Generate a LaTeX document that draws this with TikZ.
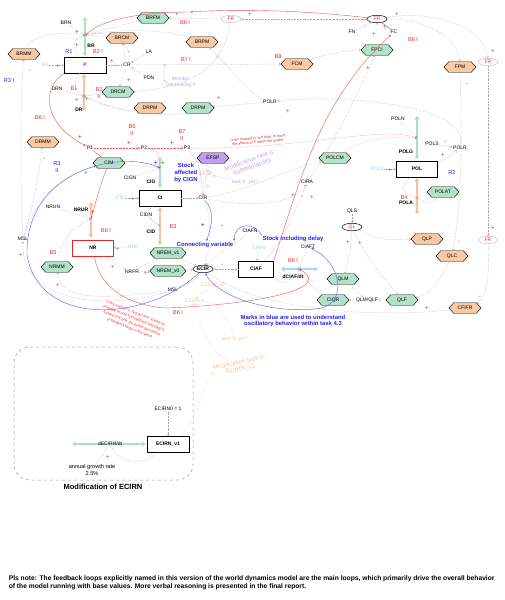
\documentclass[tikz,border=0pt]{standalone}
\usepackage{fontspec}
\setmainfont{Liberation Sans}
\usetikzlibrary{arrows.meta,shapes.symbols,shapes.geometric,positioning}

\definecolor{hexorange}{HTML}{F9C9A3}
\definecolor{hexgreen}{HTML}{B3E2CB}
\definecolor{hexpurple}{HTML}{C49CF2}
\definecolor{loopred}{HTML}{E8262B}
\definecolor{loopblue}{HTML}{2323E6}
\definecolor{initblue}{HTML}{9CCBEF}
\definecolor{flowgreen}{HTML}{A6E3C6}
\definecolor{floworange}{HTML}{F8C39C}
\definecolor{flowblue}{HTML}{A8D5F5}
\definecolor{paleorange}{HTML}{F5C3A2}
\definecolor{palepurple}{HTML}{C2A2F2}
\definecolor{linkgray}{HTML}{A9A9A9}

\begin{document}
\begin{tikzpicture}[
    x=1pt, y=-1pt,
    font=\fontsize{5}{5.6}\selectfont,
    every node/.style={inner sep=0.6pt},
    hexo/.style={signal, signal to=west and east, signal pointer angle=96,
        draw=black, line width=0.45pt, fill=hexorange, minimum height=10.5pt, minimum width=32pt, inner xsep=2pt},
    hexg/.style={hexo, fill=hexgreen},
    hexp/.style={hexo, fill=hexpurple},
    stockbox/.style={draw=black, line width=0.6pt, fill=white, minimum width=42pt,
        minimum height=16pt, font=\fontsize{5}{5.6}\selectfont\bfseries},
    shadowvar/.style={ellipse, draw=gray!55, line width=0.4pt, text=loopred,
        minimum width=20pt, minimum height=7.5pt, inner sep=0.3pt},
    boldlabel/.style={font=\fontsize{5}{5.6}\selectfont\bfseries},
    loopname/.style={text=loopred, font=\fontsize{5.6}{6.2}\selectfont},
    bluename/.style={text=loopblue, font=\fontsize{5.6}{6.2}\selectfont},
    bluebold/.style={text=loopblue, font=\fontsize{5.9}{6.6}\selectfont\bfseries},
    flowarrow/.style={line width=1.6pt, {Triangle[length=3.5pt,width=5pt]}-{Triangle[length=3.5pt,width=5pt]}},
    linkdot/.style={draw=linkgray, densely dotted, line width=0.45pt, -{Straight Barb[length=1.4pt,width=2.6pt]}},
    reddot/.style={linkdot, draw=loopred!75},
    palelink/.style={linkdot, draw=paleorange},
    purplelink/.style={linkdot, draw=palepurple},
    redline/.style={draw=loopred!80, line width=0.4pt, -{Latex[length=2.5pt,width=2pt]}},
    blueline/.style={draw=loopblue!70, line width=0.45pt, -{Latex[length=2.5pt,width=2pt]}},
    polsign/.style={text=gray, font=\fontsize{7}{7}\selectfont, inner sep=0pt}]
    \useasboundingbox (0,0) rectangle (505,600);

    % FLOWS
    \coordinate (brtop) at (85,17);
    \coordinate (brbot) at (85,56);
    \coordinate (brv) at (85,35);
    \coordinate (drtop) at (84,74);
    \coordinate (drbot) at (84,111);
    \coordinate (drv) at (84,96);
    \coordinate (cigtop) at (160,157);
    \coordinate (cigbot) at (160,188);
    \coordinate (cigv) at (160,168);
    \coordinate (cidtop) at (160,207);
    \coordinate (cidbot) at (160,245);
    \coordinate (cidv) at (160,226);
    \coordinate (nrurtop) at (91,202);
    \coordinate (nrurbot) at (91,238);
    \coordinate (nrurv) at (91,219);
    \coordinate (polgtop) at (417,116);
    \coordinate (polgbot) at (417,159);
    \coordinate (polgv) at (417,138);
    \coordinate (polatop) at (417,178);
    \coordinate (polabot) at (417,214);
    \coordinate (polav) at (417,198);
    \coordinate (ciafleft) at (281,269);
    \coordinate (ciafright) at (318,269);
    \coordinate (ciafv) at (299,269);
    \coordinate (ecirnleft) at (72,444);
    \coordinate (ecirnright) at (146,444);
    \coordinate (ecirnv) at (110,444);
    \draw[flowarrow, flowgreen] (brtop) -- (brbot);
    \draw[flowarrow, floworange] (drtop) -- (drbot);
    \draw[flowarrow, flowgreen] (cigtop) -- (cigbot);
    \draw[flowarrow, floworange] (cidtop) -- (cidbot);
    \draw[flowarrow, floworange] (nrurtop) -- (nrurbot);
    \draw[flowarrow, flowgreen] (polgtop) -- (polgbot);
    \draw[flowarrow, floworange] (polatop) -- (polabot);
    \draw[flowarrow, flowblue] (ciafleft) -- (ciafright);
    \draw[flowarrow, flowgreen] (ecirnleft) -- (ecirnright);

    % NODES - top
    \node[hexo] (brmm) at (24,54) {BRMM};
    \node (brn) at (66,23) {BRN};
    \node[boldlabel] (brl) at (91,46) {BR};
    \node[fill=loopred, inner sep=0.8pt] (brmark) at (86,35) {};
    \node[hexg] (brfm) at (153,18) {BRFM};
    \node[hexo] (brcm) at (122,38) {BRCM};
    \node[bluename] (r1) at (69,52) {R1};
    \node[loopname] (b2i) at (98,52) {B2 I};
    \node[stockbox, text=loopred] (p) at (85,65) {P};
    \node[text=initblue] (p0) at (45,65) {P0};
    \node (cr) at (127,65) {CR};
    \node (la) at (149,52) {LA};
    \node (pdn) at (149,78) {PDN};
    \node[bluename] (r3i) at (9,81) {R3 I};
    \node (drn) at (57,89) {DRN};
    \node[loopname] (b1) at (74,89) {B1};
    \node[boldlabel] (drl) at (79,110) {DR};
    \node[loopname, align=center] (b2ii) at (99,93) {B2\\II};
    \node[hexg] (drcm) at (118,92) {DRCM};
    \node[hexo] (drpmo) at (150,108) {DRPM};
    \node[hexg] (drpmg) at (198,108) {DRPM};
    \node[loopname] (b6a) at (40,118) {B6 I};
    \node[shadowvar] (fra) at (231,19) {FR};
    \node[loopname] (b6b) at (185,23) {B6 I};
    \node[hexo] (brpm) at (202,42) {BRPM};
    \node[loopname] (b7i) at (186,60) {B7 I};
    \node[loopname] (b8) at (278,57) {B8};
    \node[hexo] (fcm) at (297,64) {FCM};
    \node[text=palepurple, align=center] (monitor) at (181,82) {Monitor:\\Decreasing P};
    \coordinate (monv) at (165,64);
    \node (polr) at (270,102) {POLR};
    \node[shadowvar, draw=black, line width=0.5pt] (frb) at (377,19) {FR};
    \node (fn) at (352,32) {FN};
    \node (fc) at (394,32) {FC};
    \node[hexg] (fpci) at (377,50) {FPCI};
    \node[loopname] (b6c) at (413,40) {B6 I};
    \node[hexo] (fpm) at (460,67) {FPM};
    \node[shadowvar] (frc) at (488,62) {FR};
    \node (poln) at (398,119) {POLN};

    % NODES - middle
    \node[hexo] (drmm) at (43,142) {DRMM};
    \node (p1) at (90,148) {P1};
    \node (p2) at (144,148) {P2};
    \node (p3) at (187,148) {P3};
    \node[loopname, align=center] (b6ii) at (132,130) {B6\\II};
    \node[loopname, align=center] (b7ii) at (182,135) {B7\\II};
    \node[hexg] (cim) at (109,163) {CIM};
    \node[bluename, align=center] (r3ii) at (57,167) {R3\\II};
    \node[text=loopred, font=\fontsize{3.6}{4.2}\selectfont, rotate=5, align=center] (rednote) at (258,140)
        {Links marked in "red dots" to trace\\the effects of P within the model.};
    \node[hexp] (efsp) at (213,158) {EFSP};
    \node[bluebold, align=center] (stockcign) at (186,173) {Stock\\affected\\by CIGN};
    \node[text=palepurple, font=\fontsize{6.2}{6.8}\selectfont, rotate=20, align=center] (task6) at (251,164)
        {Modification task 6:\\Substitutability};
    \node[text=palepurple] (efspl) at (206,174) {EFSP};
    \node[text=palepurple] (task6q) at (245,182) {task 6: y/n?};
    \node (cign) at (130,178) {CIGN};
    \node[boldlabel] (cigl) at (151,182) {CIG};
    \node[stockbox] (ci) at (160,198) {CI};
    \node[text=initblue] (ci0) at (120,198) {CI0};
    \node (cir) at (203,198) {CIR};
    \node (cira) at (307,182) {CIRA};
    \node[hexg] (polcm) at (335,158) {POLCM};
    \node[stockbox, minimum width=41pt] (pol) at (417,169) {POL};
    \node[text=initblue] (pol0) at (377,169) {POL0};
    \node[boldlabel] (polg) at (406,152) {POLG};
    \node (pols) at (432,144) {POLS};
    \node (polrb) at (460,148) {POLR};
    \node[bluename] (r2) at (452,173) {R2};
    \node[hexg] (polat) at (443,192) {POLAT};
    \node[loopname] (b4) at (404,198) {B4};
    \node[boldlabel] (pola) at (406,203) {POLA};
    \node (cidn) at (146,215) {CIDN};
    \node[boldlabel] (cidl) at (151,232) {CID};
    \node[loopname] (b3) at (173,227) {B3};
    \node (nrun) at (53,207) {NRUN};
    \node[boldlabel] (nrurl) at (81,210) {NRUR};
    \node[loopname] (b6d) at (106,231) {B6 I};
    \node (msl) at (23,239) {MSL};
    \node[stockbox, draw=loopred, minimum width=41pt] (nr) at (93,248) {NR};
    \node (qls) at (352,211) {QLS};
    \node[shadowvar, draw=black, line width=0.5pt] (ql) at (352,227) {QL};
    \node[hexo] (qlp) at (427,239) {QLP};
    \node[shadowvar] (frd) at (488,240) {FR};
    \node[bluebold] (connvar) at (205,245) {Connecting variable};
    \node[bluebold] (stockdelay) at (293,239) {Stock including delay};
    \node (ciafn) at (250,231) {CIAFN};
    \node (ciaft) at (308,247) {CIAFT};
    \node[text=initblue] (ciaf0) at (259,248) {CIAF0};

    % NODES - lower
    \node[loopname] (b5) at (53,253) {B5};
    \node[hexg] (nrmm) at (57,267) {NRMM};
    \node[text=initblue] (nr0) at (133,247) {NR0};
    \node (nrfr) at (132,272) {NRFR};
    \node[hexg] (nremvone) at (168,253) {NREM\_v1};
    \node[hexg] (nremvzero) at (168,271) {NREM\_v0};
    \node[shadowvar, draw=black, line width=0.5pt, text=black, font=\fontsize{5}{5.6}\selectfont\bfseries] (ecir) at (203,269) {ECIR};
    \node[stockbox, minimum width=35pt] (ciaf) at (256,269) {CIAF};
    \node[loopname] (b6e) at (293,261) {B6 I};
    \node[boldlabel] (dciafl) at (293,277) {dCIAF/dt};
    \node[hexo] (qlc) at (452,256) {QLC};
    \node[hexg] (qlm) at (343,279) {QLM};
    \node (msltwo) at (173,290) {MSL};
    \node[text=paleorange] (ecirnvzero) at (213,285) {ECIRN\_v0};
    \node[text=paleorange] (ecirn) at (193,301) {ECIRN};
    \node[hexg] (ciqr) at (333,300) {CIQR};
    \node (qlmqlf) at (367,300) {QLM/QLF};
    \node[hexg] (qlf) at (402,300) {QLF};
    \node[hexo] (cfifr) at (465,308) {CFIFR};
    \node[loopname] (b6f) at (178,313) {B6 I};
    \node[text=loopred, font=\fontsize{3.6}{5.4}\selectfont, rotate=-22, align=center] (rednotetwo) at (133,321)
        {Links marked in "red dot line" to give an\\example of how full feedback loop (B6) is\\formed (not only the partial description\\of feedback loops in the report.};
    \node[bluebold, align=center] (bluemarks) at (293,321) {Marks in blue are used to understand\\oscillatory behavior within task 4.3};
    \node[text=paleorange] (task5q) at (235,339) {task 5: y/n?};
    \node[text=paleorange, font=\fontsize{6.2}{6.8}\selectfont, rotate=12, align=center] (task5) at (240,366)
        {Modification task 5:\\ECIRN\_v1};

    % NODES - modification box
    \node[draw=gray!80, dashed, line width=0.5pt, rounded corners=16pt, minimum width=179pt, minimum height=133pt] (modframe) at (103.5,413.5) {};
    \node (ecirnzero) at (168,409) {ECIRN0 = 1};
    \node[stockbox] (ecirnvone) at (168,444) {ECIRN\_v1};
    \node (decirn) at (110,444) {dECIRN/dt};
    \node[align=center, font=\fontsize{5.6}{6.2}\selectfont] (growth) at (92,470) {annual growth rate\\2.5\%};
    \node[font=\fontsize{7.5}{8}\selectfont\bfseries] (modtitle) at (103,487) {Modification of ECIRN};
    \node[anchor=north west, align=left, font=\fontsize{6.7}{8.2}\selectfont\bfseries] (note) at (8,575)
        {Pls note: The feedback loops explicitly named in this version of the world dynamics model are the main loops, which primarily drive the overall behavior\\
         of the model running with base values. More verbal reasoning is presented in the final report.};

    % LINKS
    \draw[linkdot] (brmm) .. controls (30,36) and (60,30) .. (brv);
    \draw[linkdot] (brn) -- (brv);
    \draw[linkdot] (brfm) .. controls (125,24) and (105,30) .. (brv);
    \draw[linkdot] (brcm) -- (brv);
    \draw[linkdot] (brpm) .. controls (170,30) and (120,28) .. (brv);
    \draw[linkdot] (cr) .. controls (135,45) and (110,28) .. (brv);
    \draw[linkdot] (p) .. controls (70,45) and (74,38) .. (brv);
    \draw[linkdot] (p0) -- (p);
    \draw[linkdot] (p) -- (cr);
    \draw[linkdot] (la) -- (cr);
    \draw[linkdot] (pdn) -- (cr);
    \draw[linkdot] (cr) -- (brcm);
    \draw[linkdot] (cr) -- (drcm);
    \draw[linkdot] (cr) -- (fcm);
    \draw[linkdot] (msl) .. controls (20,180) and (20,100) .. (brmm);
    \draw[linkdot] (msl) .. controls (32,210) and (38,180) .. (drmm);
    \draw[linkdot] (drn) -- (drv);
    \draw[linkdot] (p) .. controls (72,85) and (76,92) .. (drv);
    \draw[linkdot] (drcm) -- (drv);
    \draw[linkdot] (drpmo) .. controls (125,112) and (100,104) .. (drv);
    \draw[linkdot] (drpmg) .. controls (170,118) and (110,112) .. (drv);
    \draw[linkdot] (fra) -- (brfm);
    \draw[linkdot] (frb) -- (fra);
    \draw[linkdot] (fn) -- (frb);
    \draw[linkdot] (fc) -- (frb);
    \draw[linkdot] (fpci) -- (frb);
    \draw[linkdot] (fra) .. controls (225,60) and (200,88) .. (drcm);
    \draw[linkdot] (polr) .. controls (245,92) and (225,60) .. (brpm);
    \draw[linkdot] (polr) -- (drpmg);
    \draw[linkdot] (fcm) .. controls (320,56) and (345,50) .. (fpci);
    \draw[linkdot] (frb) .. controls (420,18) and (458,35) .. (fpm);
    \draw[linkdot] (frb) .. controls (430,10) and (485,25) .. (frc);
    \draw[linkdot] (fpm) .. controls (462,140) and (462,200) .. (qlc);
    \draw[linkdot] (frc) -- (frd);
    \draw[linkdot] (frd) .. controls (490,280) and (485,300) .. (cfifr);
    \draw[linkdot] (cfifr) .. controls (380,318) and (260,312) .. (ecir);
    \draw[linkdot] (qlf) -- (qlmqlf);
    \draw[linkdot] (qlm) -- (qlmqlf);
    \draw[linkdot] (qlmqlf) -- (ciqr);
    \draw[linkdot] (qlc) .. controls (440,280) and (430,295) .. (qlf);
    \draw[linkdot] (qls) -- (ql);
    \draw[linkdot] (ql) .. controls (380,240) .. (qlp);
    \draw[linkdot] (ql) .. controls (350,255) .. (qlm);
    \draw[linkdot] (ql) .. controls (370,265) and (390,285) .. (qlf);
    \draw[linkdot] (pol0) -- (pol);
    \draw[linkdot] (poln) -- (polgv);
    \draw[linkdot] (polcm) .. controls (360,140) and (390,135) .. (polgv);
    \draw[linkdot] (pols) -- (polrb);
    \draw[linkdot] (pol) .. controls (445,160) .. (polrb);
    \draw[linkdot] (polrb) .. controls (470,100) and (320,95) .. (polr);
    \draw[linkdot] (polat) .. controls (430,205) .. (polav);
    \draw[linkdot] (pol) .. controls (400,190) .. (polav);
    \draw[linkdot] (ci0) -- (ci);
    \draw[linkdot] (cign) -- (cigv);
    \draw[linkdot] (cim) -- (cigv);
    \draw[linkdot] (cidn) -- (cidv);
    \draw[linkdot] (ci) .. controls (145,215) .. (cidv);
    \draw[linkdot] (ci) -- (cir);
    \draw[linkdot] (cir) .. controls (260,210) and (300,200) .. (cira);
    \draw[linkdot] (cira) .. controls (330,150) and (360,90) .. (fpci);
    \draw[linkdot] (cir) .. controls (250,190) and (300,165) .. (polcm);
    \draw[linkdot] (ciaf) .. controls (285,240) and (300,200) .. (cira);
    \draw[linkdot] (cir) .. controls (213,220) and (210,250) .. (ecir);
    \draw[linkdot] (ciaf) -- (ecir);
    \draw[linkdot] (ciafn) .. controls (235,245) and (215,255) .. (ecir);
    \draw[linkdot] (nremvone) -- (ecir);
    \draw[linkdot] (nremvzero) -- (ecir);
    \draw[linkdot] (ecir) .. controls (195,280) .. (msltwo);
    \draw[linkdot] (msltwo) .. controls (100,300) and (60,300) .. (nrmm);
    \draw[linkdot] (msltwo) .. controls (100,312) and (20,300) .. (msl);
    \draw[linkdot] (msl) .. controls (35,200) and (60,175) .. (cim);
    \draw[linkdot] (nrun) -- (nrurv);
    \draw[linkdot] (nrmm) .. controls (60,240) and (75,225) .. (nrurv);
    \draw[linkdot] (nr0) -- (nr);
    \draw[linkdot] (nr) .. controls (115,265) .. (nrfr);
    \draw[linkdot] (nrfr) -- (nremvone);
    \draw[linkdot] (nrfr) -- (nremvzero);
    \draw[linkdot] (ciaft) -- (ciafv);
    \draw[linkdot] (ciaf.south east) .. controls (285,285) .. (ciafv);
    \draw[linkdot] (ciqr) .. controls (315,290) and (305,280) .. (ciafv);
    \draw[linkdot] (ciaf0) -- (ciaf);
    \draw[linkdot] (ecirnzero) -- (ecirnvone);
    \draw[linkdot] (growth) -- (ecirnv);
    \draw[linkdot] (ecirnvone) .. controls (140,468) and (118,462) .. (ecirnv);
    % pale and purple links
    \draw[palelink] (ecirnvone) .. controls (200,420) and (205,375) .. (task5);
    \draw[palelink] (task5) .. controls (205,350) and (200,320) .. (ecirn);
    \draw[palelink] (task5q) .. controls (228,315) and (210,300) .. (ecirn);
    \draw[palelink] (ecirnvzero) -- (ecirn);
    \draw[purplelink, {Straight Barb[length=1.4pt,width=2.6pt]}-{Straight Barb[length=1.4pt,width=2.6pt]}] (monv) .. controls (163,75) .. (monitor.west);
    \draw[purplelink] (efsp) -- (efspl);
    \draw[purplelink] (task6q) -- (efspl);
    \draw[purplelink] (efspl) -- (cir);

    % RED LOOP
    \coordinate (redtop) at (190,12);
    \coordinate (redlow) at (165,308);
    \draw[redline, -] (fc) -- (frb);
    \draw[redline] (frb) .. controls (320,12) and (250,8) .. (redtop);
    \draw[redline, -] (redtop) .. controls (140,12) and (100,20) .. (brmark);
    \draw[redline] (p.south west) .. controls (40,90) and (45,125) .. (p1);
    \draw[redline, -] (p1) -- (cim);
    \draw[redline] (cim) .. controls (100,185) and (95,205) .. (nrurv);
    \draw[redline, -] (nr) .. controls (100,290) and (130,305) .. (redlow);
    \draw[redline] (redlow) .. controls (250,305) and (335,290) .. (ciafv);
    \draw[redline] (ciaf.north east) .. controls (300,180) and (320,100) .. (fc);
    \draw[reddot] (p1) -- (p2);
    \draw[reddot] (p2) -- (p3);
    \draw[reddot] (p3) .. controls (300,150) and (380,125) .. (polgv);
    \draw[reddot] (p2) .. controls (158,150) .. (cigv);
    \draw[reddot] (p3) .. controls (200,165) .. (cir);

    % BLUE MARKS
    \coordinate (bluel) at (27,255);
    \coordinate (bluer) at (322,308);
    \draw[blueline, -] (ecir) .. controls (150,320) and (40,330) .. (bluel);
    \draw[blueline] (bluel) .. controls (25,170) and (120,150) .. (cigv);
    \draw[blueline] (cir) .. controls (215,212) and (212,225) .. (connvar);
    \draw[blueline] (stockdelay.north west) .. controls (255,222) and (235,222) .. (connvar.north east);
    \draw[blueline, -] (ciaft) .. controls (340,262) and (348,300) .. (bluer);
    \draw[blueline] (bluer) .. controls (280,315) and (220,300) .. (ecir);

    % POLARITIES
    \foreach \x/\y [count=\i] in {58/66, 112/61, 77/32, 77/45, 77/100, 87/99, 129/80, 177/14, 250/14,
        219/98, 288/111, 397/14, 374/34, 385/27, 368/68, 493/51, 86/173, 133/199, 293/195, 312/197,
        390/170, 443/155, 493/228, 21/255, 118/249, 113/267, 146/273, 58/285, 108/457, 427/308,
        348/242, 360/243}
        \node[polsign] (plus\i) at (\x,\y) {+};
    \foreach \x/\y [count=\i] in {129/52, 30/71, 44/159, 217/58, 365/27, 459/242, 445/142, 302/197,
        480/297, 222/265, 467/84}
        \node[polsign] (minus\i) at (\x,\y) {-};
    \foreach \x/\y [count=\i] in {80/137, 129/143, 172/143, 93/212, 163/163}
        \node[polsign, text=loopred] (redplus\i) at (\x,\y) {+};
    \node[polsign, text=loopred] (redminus) at (208,187) {-};
    \foreach \x/\y [count=\i] in {156/163, 203/225, 313/249}
        \node[polsign, text=loopblue] (blueplus\i) at (\x,\y) {+};
    \node[polsign, text=loopblue] (blueminus) at (222,226) {-};
\end{tikzpicture}
\end{document}
